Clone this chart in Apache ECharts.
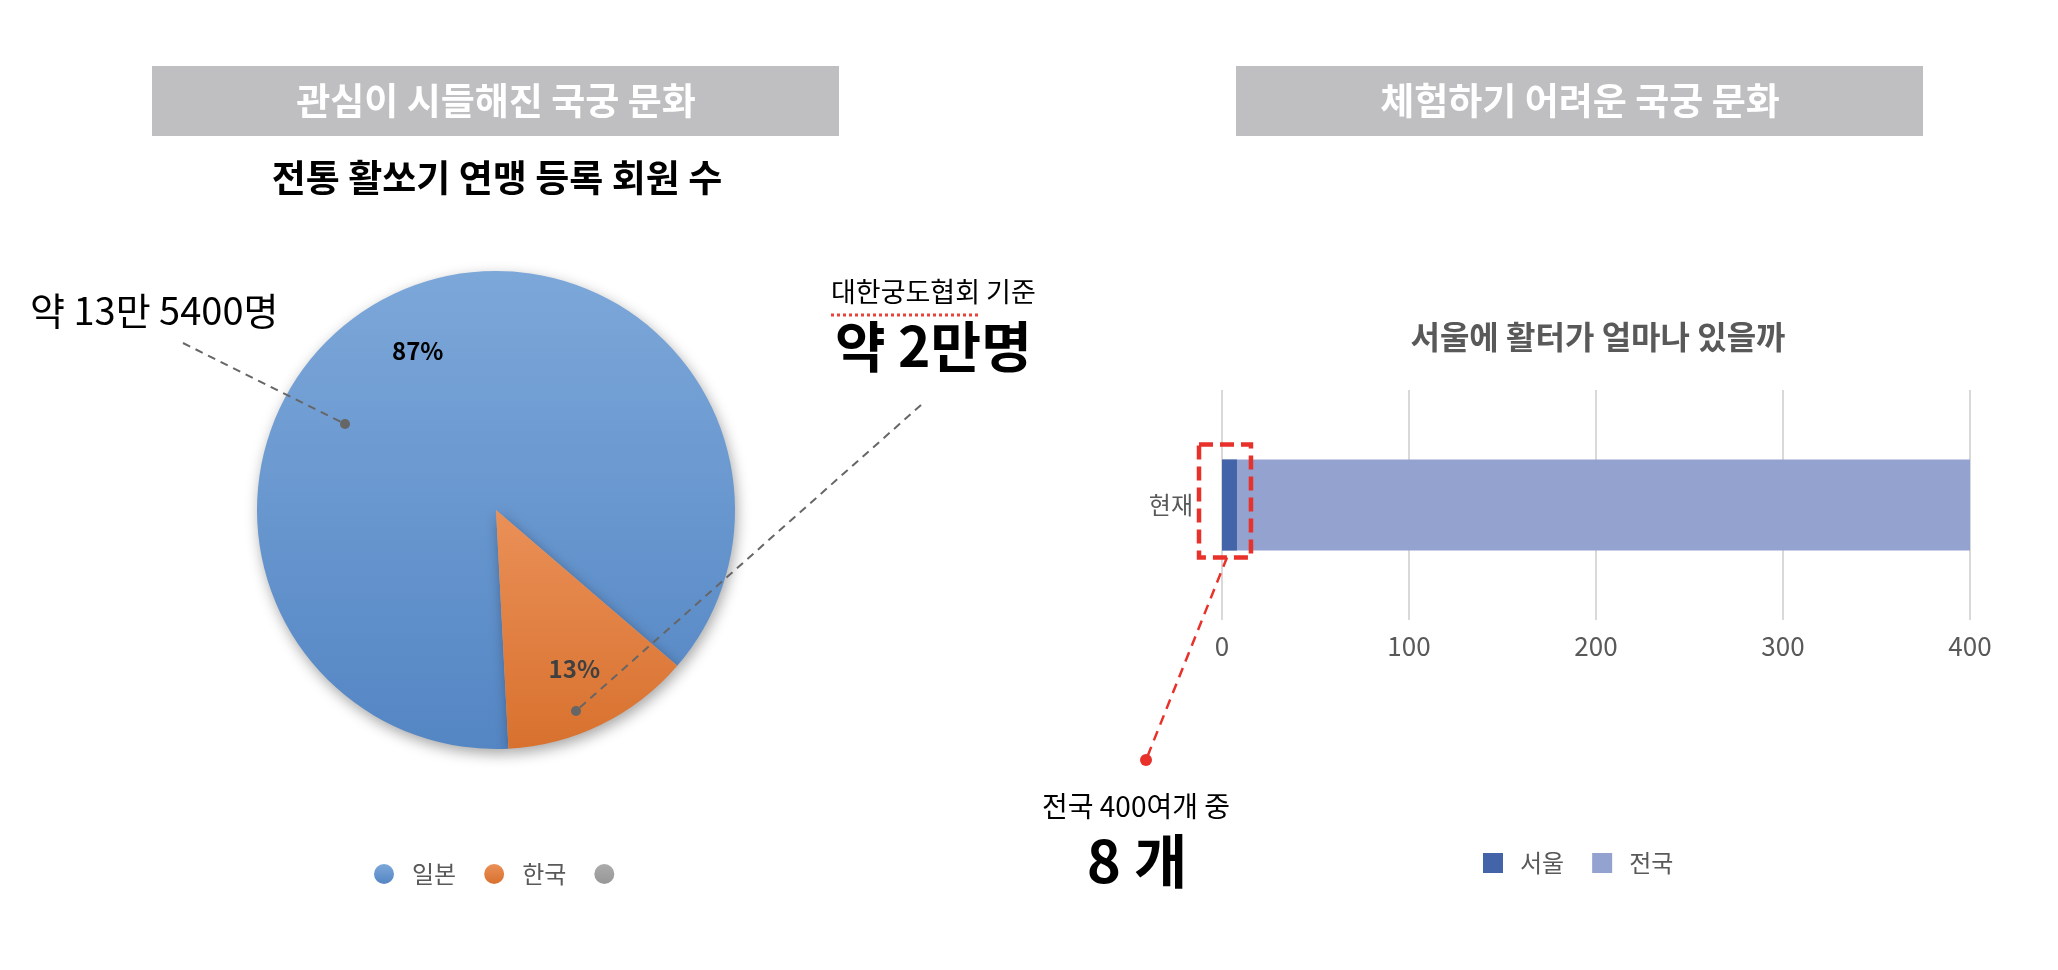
<!DOCTYPE html>
<html>
<head>
<meta charset="utf-8">
<script src="https://cdn.jsdelivr.net/npm/echarts@6/dist/echarts.min.js"></script>
<style>
  html, body { margin: 0; padding: 0; background: #ffffff; }
  #chart { width: 2058px; height: 970px; }
</style>
</head>
<body>
<div id="chart"></div>
<script>
// ---- data ----
const pieNames = ['일본', '한국', ' '];
const pieValues = [135400, 20000, 0];
const barCategories = ['현재'];
const seoulValues = [8];
const nationValues = [400];
const barSeriesNames = ['서울', '전국'];
const xMin = 0, xMax = 400, xInterval = 100;

const FONT = '"Noto Sans CJK KR", "Noto Sans", sans-serif';
const grad = (a, b) => new echarts.graphic.LinearGradient(0, 0, 0, 1, [
  { offset: 0, color: a }, { offset: 1, color: b }
]);
const pieColors = [grad('#7CA7D9', '#5486C4'), grad('#EA9058', '#D8712E'), grad('#ABABAB', '#979797')];
const labelColors = ['#000000', '#404040', '#404040'];

const PIE_CENTER = [496, 510];
const PIE_R = 239;

const chart = echarts.init(document.getElementById('chart'), null, { renderer: 'canvas' });

const mainPieData = pieNames.map((n, i) => ({
  name: n, value: pieValues[i],
  itemStyle: {
    color: pieColors[i],
    shadowBlur: pieValues[i] ? 14 : 0,
    shadowColor: 'rgba(0,0,0,0.35)',
    shadowOffsetX: 2, shadowOffsetY: 5
  }
}));
const labelPieData = pieNames.map((n, i) => ({
  name: n, value: pieValues[i],
  itemStyle: { color: 'rgba(0,0,0,0)' },
  label: { show: pieValues[i] > 0, color: labelColors[i] }
}));

const option = {
  animation: false,
  backgroundColor: '#ffffff',
  textStyle: { fontFamily: FONT },
  legend: [
    {
      data: pieNames,
      left: 374, top: 862, padding: 0,
      icon: 'circle', itemWidth: 20, itemHeight: 20, itemGap: 28,
      textStyle: { fontSize: 24, color: '#595959', lineHeight: 24, padding: [0, 0, 0, 13], fontFamily: FONT }
    },
    {
      data: barSeriesNames,
      left: 1483, top: 851, padding: 0,
      icon: 'rect', itemWidth: 20, itemHeight: 20, itemGap: 28,
      textStyle: { fontSize: 24, color: '#595959', lineHeight: 24, padding: [0, 0, 0, 12], fontFamily: FONT }
    }
  ],
  grid: { left: 1222, right: 88, top: 390, bottom: 350 },
  xAxis: {
    type: 'value', min: xMin, max: xMax, interval: xInterval,
    axisLine: { show: false }, axisTick: { show: false },
    splitLine: { show: true, lineStyle: { color: '#D9D9D9', width: 2 } },
    axisLabel: { fontSize: 26, color: '#595959', margin: 13, fontFamily: FONT }
  },
  yAxis: {
    type: 'category', data: barCategories,
    axisLine: { show: false }, axisTick: { show: false },
    axisLabel: { fontSize: 24, color: '#595959', margin: 29, fontFamily: FONT }
  },
  series: [
    {
      type: 'pie', name: 'pie', center: PIE_CENTER, radius: PIE_R,
      startAngle: 273, clockwise: true, percentPrecision: 0,
      label: { show: false }, labelLine: { show: false },
      emphasis: { disabled: true },
      data: mainPieData
    },
    {
      type: 'pie', name: 'pieLabels', center: PIE_CENTER, radius: Math.round(PIE_R * 1.46),
      startAngle: 273, clockwise: true, percentPrecision: 0, silent: true,
      legendHoverLink: false,
      label: { position: 'inside', formatter: '{d}%', fontSize: 24, fontWeight: 'bold', fontFamily: FONT },
      labelLine: { show: false },
      emphasis: { disabled: true },
      data: labelPieData
    },
    {
      type: 'bar', name: '전국', data: nationValues, barWidth: 91,
      itemStyle: { color: '#93A2CF' }, emphasis: { disabled: true }
    },
    {
      type: 'bar', name: '서울', data: seoulValues, barWidth: 91, barGap: '-100%',
      itemStyle: { color: '#4464A9' }, emphasis: { disabled: true }
    }
  ]
};
chart.setOption(option);

// ---- annotations ----
const p0 = chart.convertToPixel({ xAxisIndex: 0, yAxisIndex: 0 }, [0, barCategories[0]]);
const p8 = chart.convertToPixel({ xAxisIndex: 0, yAxisIndex: 0 }, [seoulValues[0], barCategories[0]]);
const barHalf = 91 / 2;
const box = { x: p0[0] - 23, y: p0[1] - barHalf - 15, w: (p8[0] - p0[0]) + 23 + 14, h: 91 + 15 + 7 };
const boxBottomMid = [p0[0] + 5, box.y + box.h];
const redDot = [1146, 760];

function txt(x, y, text, size, weight, color, align) {
  return {
    type: 'text', x: x, y: y, z: 100,
    style: {
      text: text, fontSize: size, fontWeight: weight, fontFamily: FONT, fill: color,
      align: align || 'center', textAlign: align || 'center', verticalAlign: 'middle', textVerticalAlign: 'middle'
    }
  };
}

const graphics = [
  { type: 'rect', shape: { x: 152, y: 66, width: 687, height: 70 }, style: { fill: '#BFBFC1' } },
  { type: 'rect', shape: { x: 1236, y: 66, width: 687, height: 70 }, style: { fill: '#BFBFC1' } },
  txt(496, 101, '관심이 시들해진 국궁 문화', 37, 'bold', '#ffffff'),
  txt(1580, 101, '체험하기 어려운 국궁 문화', 37, 'bold', '#ffffff'),
  txt(497, 178, '전통 활쏘기 연맹 등록 회원 수', 37, 'bold', '#000000'),
  txt(1598, 337, '서울에 활터가 얼마나 있을까', 32, 'bold', '#595959'),

  // left pie annotations
  txt(30, 311, '약 13만 5400명', 38, 'normal', '#000000', 'left'),
  { type: 'line', z: 100, shape: { x1: 183, y1: 343, x2: 345, y2: 424 }, style: { stroke: '#666666', lineWidth: 2, lineDash: [8, 6] } },
  { type: 'circle', z: 100, shape: { cx: 345, cy: 424, r: 5 }, style: { fill: '#666666' } },
  txt(831, 292, '대한궁도협회 기준', 27, 'normal', '#000000', 'left'),
  { type: 'line', z: 100, shape: { x1: 831, y1: 315, x2: 981, y2: 315 }, style: { stroke: '#E8433A', lineWidth: 3, lineDash: [3, 3] } },
  txt(835, 346, '약 2만명', 55, 'bold', '#000000', 'left'),
  { type: 'line', z: 100, shape: { x1: 921, y1: 405, x2: 576, y2: 711 }, style: { stroke: '#666666', lineWidth: 2, lineDash: [8, 6] } },
  { type: 'circle', z: 100, shape: { cx: 576, cy: 711, r: 5 }, style: { fill: '#666666' } },

  // right bar annotations
  { type: 'rect', z: 100, shape: { x: box.x, y: box.y, width: box.w, height: box.h }, style: { fill: 'none', stroke: '#E8312A', lineWidth: 4.5, lineDash: [14, 7] } },
  { type: 'line', z: 100, shape: { x1: boxBottomMid[0], y1: boxBottomMid[1], x2: redDot[0], y2: redDot[1] }, style: { stroke: '#E8312A', lineWidth: 2.5, lineDash: [10, 7] } },
  { type: 'circle', z: 100, shape: { cx: redDot[0], cy: redDot[1], r: 6 }, style: { fill: '#E8312A' } },
  txt(1136, 806, '전국 400여개 중', 28, 'normal', '#000000'),
  txt(1137, 861, '8 개', 58, 'bold', '#000000')
];
chart.setOption({ graphic: graphics });
</script>
</body>
</html>
